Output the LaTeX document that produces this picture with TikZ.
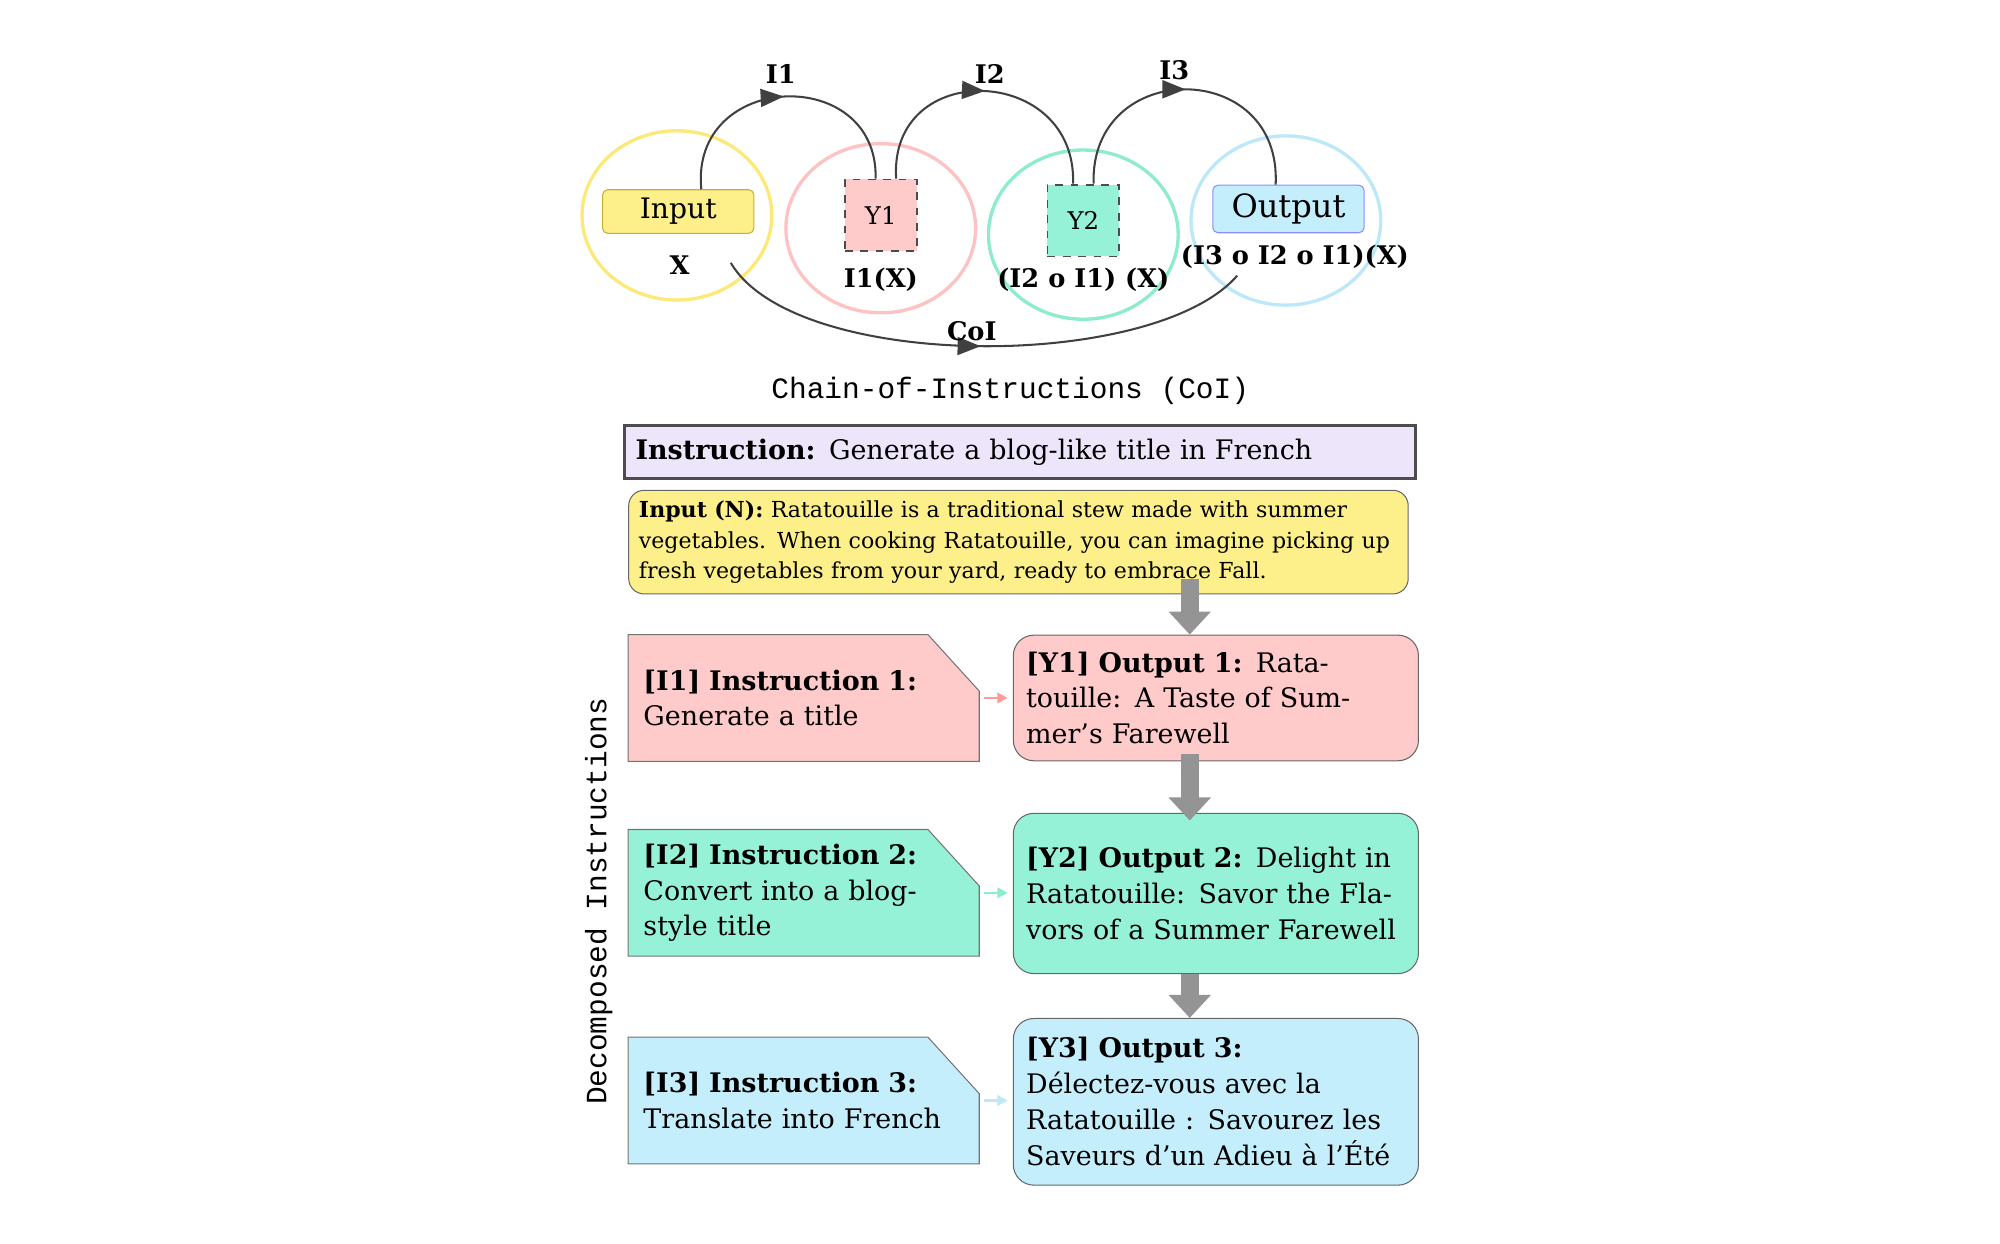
\documentclass[tikz,border=0pt]{standalone}
\usepackage{fontspec}
\setmainfont{DejaVu Serif}
\newfontfamily\monof{Liberation Mono}
\usetikzlibrary{shapes.geometric,arrows.meta,decorations.markings,backgrounds,calc}
\definecolor{cyel}{HTML}{FDF08A}
\definecolor{cpink}{HTML}{FFCACA}
\definecolor{cgreen}{HTML}{96F2D7}
\definecolor{cblue}{HTML}{C4EEFC}
\definecolor{clav}{HTML}{EDE6FB}
\definecolor{cpinkl}{HTML}{FFC2C2}
\definecolor{cgreenl}{HTML}{8EEBCB}
\definecolor{cbluel}{HTML}{BDE8F8}
\definecolor{cyell}{HTML}{FCE97A}
\begin{document}
\begin{tikzpicture}[x=0.5pt,y=-0.5pt,
  ell/.style={ellipse,draw,line width=1.3pt,minimum width=74pt,minimum height=66pt},
  arc/.style={draw=black!75,line width=0.8pt,postaction={decorate},
    decoration={markings,mark=at position 0.5 with {\arrow{Triangle[length=9pt,width=7pt]}}}},
  lbl/.style={font=\bfseries\fontsize{10}{12}\selectfont},
  ybox/.style={draw=black!70,dashed,line width=0.7pt,minimum width=28pt,minimum height=28pt,font=\fontsize{9.5}{11}\selectfont},
  lt/.style={minimum width=136.5pt,minimum height=49pt,text width=125pt,align=left,inner sep=3pt,anchor=north west,font=\fontsize{10.5}{14}\selectfont},
  rt/.style={draw=black!60,rounded corners=8pt,text width=148pt,align=left,inner sep=5pt,anchor=north west,font=\fontsize{10.5}{14}\selectfont},
  fat/.style={draw=black!42,line width=7pt,-{Triangle[length=9pt,width=16pt]}},
  sm/.style={line width=1pt,-{Triangle[length=4pt,width=4pt]}}]
\useasboundingbox (0,0) rectangle (1560,970);
% top ellipses
\node[ell,draw=cyell] (e0) at (528,168) {};
\node[ell,draw=cpinkl] (e1) at (687,178) {};
\node[ell,draw=cgreenl] (e2) at (845,183) {};
\node[ell,draw=cbluel] (e3) at (1003,172) {};
\node[draw=black!30!yellow!80!orange,fill=cyel,rounded corners=2pt,minimum width=59pt,minimum height=17pt,font=\fontsize{11}{13}\selectfont] (bin) at (529,165) {Input};
\node[ybox,fill=cpink] (by1) at (687,168) {Y1};
\node[ybox,fill=cgreen] (by2) at (845,172) {Y2};
\node[draw=blue!45,fill=cblue,rounded corners=2pt,minimum width=59pt,minimum height=17pt,font=\fontsize{12.5}{14}\selectfont] (bout) at (1005,163) {Output};
\node[lbl] (lx) at (530,207) {X};
\node[lbl] (l1) at (687,218) {I1(X)};
\node[lbl] (l2) at (845,218) {(I2 o I1) (X)};
\node[lbl] (l3) at (1010,200) {(I3 o I2 o I1)(X)};
\path[arc] ([xshift=9]bin.north) .. controls (538,55) and (685,50) .. ([xshift=-2]by1.north);
\path[arc] ([xshift=6]by1.north) .. controls (693,45) and (840,50) .. ([xshift=-4]by2.north);
\path[arc] ([xshift=4]by2.north) .. controls (850,45) and (1000,45) .. ([xshift=-5]bout.north);
\coordinate (cs) at (570,205);
\coordinate (ce) at (965,215);
\path[arc] (cs) .. controls (620,290) and (900,290) .. (ce);
\node[lbl] at (609,58) {I1};
\node[lbl] at (772,58) {I2};
\node[lbl] at (916,55) {I3};
\node[lbl] at (758,258) {CoI};
\node[font=\monof\fontsize{11.5}{13}\selectfont] (title) at (788,305) {Chain-of-Instructions (CoI)};
% instruction
\node[draw=black!70,line width=1.2pt,fill=clav,minimum width=308.5pt,minimum height=20.5pt,text width=300pt,align=left,inner sep=3pt,anchor=north west,font=\fontsize{10.5}{12}\selectfont] (ins) at (486,331) {\textbf{Instruction:} Generate a blog-like title in French};
\node[draw=black!60,fill=cyel,rounded corners=6pt,minimum width=304pt,minimum height=35pt,text width=296pt,align=left,inner sep=4pt,anchor=north west,font=\fontsize{8.6}{12}\selectfont] (inp) at (490,382) {\textbf{Input (N):} Ratatouille is a traditional stew made with summer vegetables. When cooking Ratatouille, you can imagine picking up fresh vegetables from your yard, ready to embrace Fall.};
% left boxes
\node[lt] (i1) at (490,495) {\textbf{[I1] Instruction 1:}\\Generate a title};
\node[lt] (i2) at (490,647) {\textbf{[I2] Instruction 2:}\\Convert into a blog-style title};
\node[lt] (i3) at (490,809) {\textbf{[I3] Instruction 3:}\\Translate into French};
\begin{scope}[on background layer]
\foreach \n/\c in {i1/cpink,i2/cgreen,i3/cblue}{
  \path[draw=black!55,fill=\c] (\n.south west) -- (\n.north west) -- ([xshift=-20]\n.north east) -- ([yshift=-22]\n.north east) -- (\n.south east) -- cycle;}
\end{scope}
% right boxes
\node[rt,fill=cpink,minimum height=49pt,minimum width=157pt] (y1) at (790,495) {\textbf{[Y1] Output 1:} Ratatouille: A Taste of Summer's Farewell};
\node[rt,fill=cgreen,minimum height=62.5pt,minimum width=157pt] (y2) at (790,634) {\textbf{[Y2] Output 2:} Delight in Ratatouille: Savor the Flavors of a Summer Farewell};
\node[rt,fill=cblue,minimum height=65pt,minimum width=157pt] (y3) at (790,794) {\textbf{[Y3] Output 3:}\\Délectez-vous avec la Ratatouille : Savourez les Saveurs d'un Adieu à l'Été};
\coordinate (ax) at (928,0);
\draw[fat] ([yshift=6]inp.south -| ax) -- (y1.north -| ax);
\draw[fat] ([yshift=3]y1.south -| ax) -- ([yshift=-3]y2.north -| ax);
\draw[fat] (y2.south -| ax) -- (y3.north -| ax);
\draw[sm,draw=cpinkl!80!red] ([xshift=2]i1.east) -- ([xshift=-2]i1.east -| y1.west);
\draw[sm,draw=cgreenl] ([xshift=2]i2.east) -- ([xshift=-2]i2.east -| y2.west);
\draw[sm,draw=cbluel] ([xshift=2]i3.east) -- ([xshift=-2]i3.east -| y3.west);
\node[rotate=90,font=\monof\fontsize{11.5}{13}\selectfont] (dec) at (467,703) {Decomposed Instructions};
\end{tikzpicture}
\end{document}
